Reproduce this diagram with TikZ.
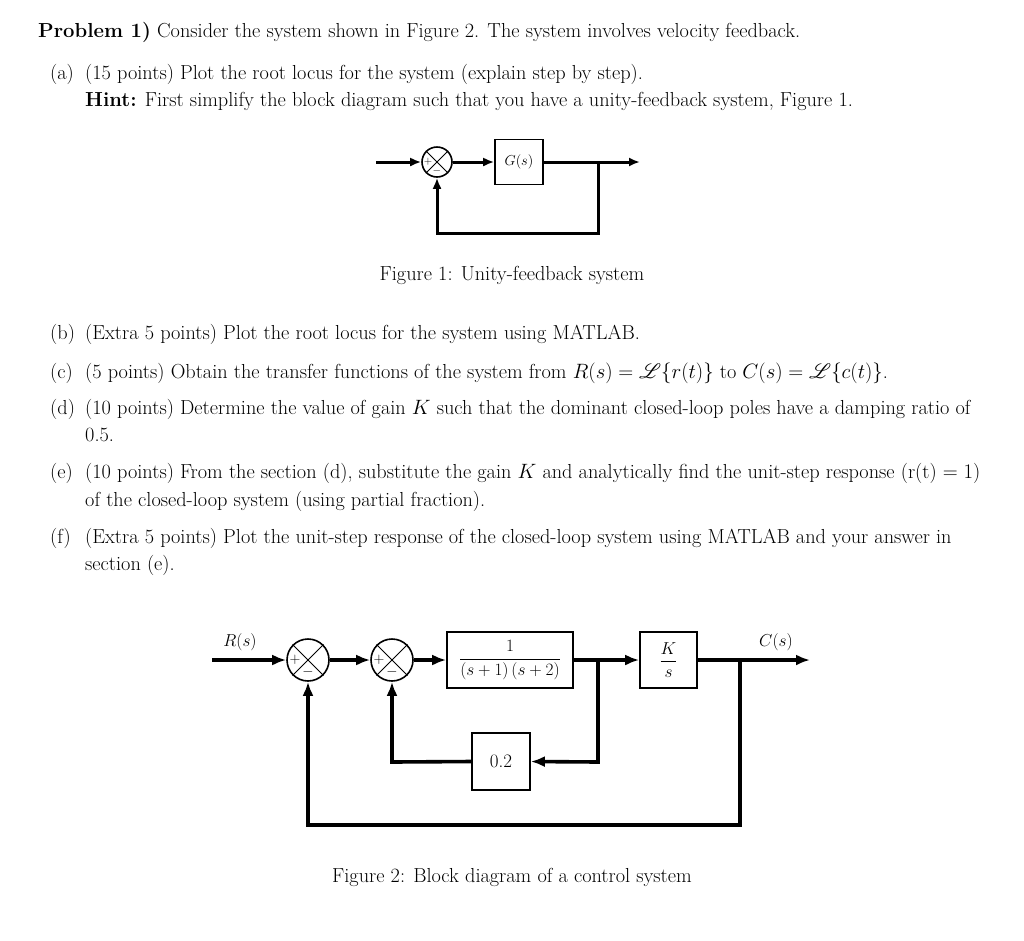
\documentclass[tikz,border=0pt]{standalone}
\usepackage{amsmath,amssymb,mathrsfs}
\usetikzlibrary{arrows.meta,calc}
\begin{document}
\begin{tikzpicture}[x=1pt,y=-1pt,
  txt/.style={anchor=base west,inner sep=0pt,font=\fontsize{20.3}{24}\selectfont},
  sig/.style={line width=3.6pt},
  arr/.style={sig,-{Latex[length=14pt,width=11pt]}},
  arrs/.style={line width=3pt,-{Latex[length=11pt,width=9pt]}},
  blk/.style={draw,line width=1.6pt,inner sep=0pt},
  sumc/.style={draw,line width=1.6pt,circle,inner sep=0pt},
  dfont/.style={font=\fontsize{19}{22}\selectfont}]
\useasboundingbox (0,0) rectangle (1024,940);
\fill[white] (0,0) rectangle (1024,940);
% text
\node[txt] (t1) at (38,37) {\textbf{Problem 1)} Consider the system shown in Figure 2. The system involves velocity feedback.};
\node[txt] (ta) at (50,79) {(a)};
\node[txt] (ta1) at (85,79) {(15 points) Plot the root locus for the system (explain step by step).};
\node[txt] (ta2) at (85,106) {\textbf{Hint:} First simplify the block diagram such that you have a unity-feedback system, Figure 1.};
\node[txt] (tb) at (50,339) {(b)};
\node[txt] (tb1) at (85,339) {(Extra 5 points) Plot the root locus for the system using MATLAB.};
\node[txt] (tc) at (50,378) {(c)};
\node[txt] (tc1) at (85,378) {(5 points) Obtain the transfer functions of the system from $R(s)=\mathscr{L}\{r(t)\}$ to $C(s)=\mathscr{L}\{c(t)\}$.};
\node[txt] (td) at (50,414) {(d)};
\node[txt] (td1) at (85,414) {(10 points) Determine the value of gain $K$ such that the dominant closed-loop poles have a damping ratio of};
\node[txt] (td2) at (85,441) {0.5.};
\node[txt] (te) at (50,478) {(e)};
\node[txt] (te1) at (85,478) {(10 points) From the section (d), substitute the gain $K$ and analytically find the unit-step response (r(t) $=1$)};
\node[txt] (te2) at (85,506) {of the closed-loop system (using partial fraction).};
\node[txt] (tf) at (50,543) {(f)};
\node[txt] (tf1) at (85,543) {(Extra 5 points) Plot the unit-step response of the closed-loop system using MATLAB and your answer in};
\node[txt] (tf2) at (85,570) {section (e).};
\node[txt,anchor=base] (cap1) at (512,280) {Figure 1: Unity-feedback system};
\node[txt,anchor=base] (cap2) at (512,882) {Figure 2: Block diagram of a control system};
% Figure 1
\coordinate (in1) at (376,162);
\node[sumc,minimum size=30pt] (s1) at (437,162) {};
\draw[line width=1pt] (s1.north west)--(s1.south east) (s1.north east)--(s1.south west);
\node[font=\fontsize{11}{11}\selectfont,inner sep=0] at (428,162) {+};
\node[font=\fontsize{11}{11}\selectfont,inner sep=0] at (437,171) {$-$};
\node[blk,minimum width=48pt,minimum height=45pt,font=\fontsize{14}{16}\selectfont] (g) at (519,162) {$G(s)$};
\coordinate (o1) at (640,162);
\coordinate (b1) at (598,162);
\coordinate (d1) at (598,233);
\coordinate (e1) at (437,233);
\draw[arrs] (in1)--(s1.west);
\draw[arrs] (s1.east)--(g.west);
\draw[arrs] (g.east)--(o1);
\draw[arrs] (b1)--(d1)--(e1)--(s1.south);
% Figure 2
\coordinate (r) at (212,660);
\node[dfont,inner sep=0] (rl) at (240,642) {$R(s)$};
\node[sumc,minimum size=42pt] (c1) at (308,660) {};
\node[sumc,minimum size=42pt] (c2) at (392,660) {};
\foreach \c in {c1,c2}{
 \draw[line width=1pt] (\c.north west)--(\c.south east) (\c.north east)--(\c.south west);
 \node[font=\fontsize{15}{15}\selectfont,inner sep=0] at ($(\c)+(-13,0)$) {+};
 \node[font=\fontsize{15}{15}\selectfont,inner sep=0] at ($(\c)+(0,12)$) {$-$};
}
\node[blk,minimum width=126pt,minimum height=56pt,dfont] (p) at (510,660) {$\dfrac{1}{(s+1)\,(s+2)}$};
\node[blk,minimum width=57pt,minimum height=56pt,dfont] (k) at (668.5,660) {$\dfrac{K}{s}$};
\node[blk,minimum width=58pt,minimum height=57pt,dfont] (h) at (501,761.5) {0.2};
\coordinate (out) at (810,660);
\node[dfont,inner sep=0] (cl) at (776,642) {$C(s)$};
\coordinate (bp) at (598,660);
\coordinate (bpd) at (598,762);
\coordinate (fb2) at (392,762);
\coordinate (bk) at (740,660);
\coordinate (bkd) at (740,825);
\coordinate (fb1) at (308,825);
\draw[arr] (r)--(c1.west);
\draw[arr] (c1.east)--(c2.west);
\draw[arr] (c2.east)--(p.west);
\draw[arr] (p.east)--(k.west);
\draw[arr] (k.east)--(out);
\draw[arr] (bp)--(bpd)--(h.east);
\draw[arr] (h.west)--(fb2)--(c2.south);
\draw[arr] (bk)--(bkd)--(fb1)--(c1.south);
\end{tikzpicture}
\end{document}
